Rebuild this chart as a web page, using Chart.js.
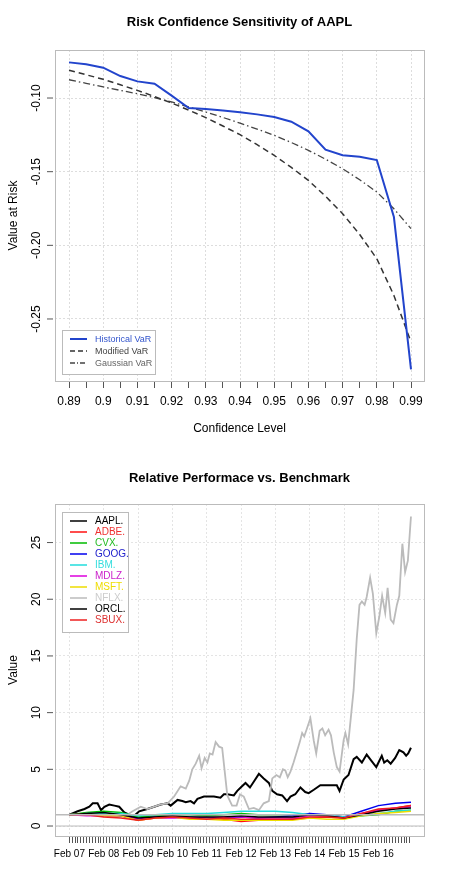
<!DOCTYPE html>
<html><head><meta charset="utf-8">
<script src="https://cdn.jsdelivr.net/npm/chart.js@4"></script>
<style>body{margin:0;background:#fff;width:474px;height:878px;overflow:hidden}canvas{position:absolute;left:0}</style>
</head><body>
<canvas id="c1" width="474" height="440" style="top:0"></canvas>
<canvas id="c2" width="474" height="438" style="top:440px"></canvas>
<script>
const confLevels=[0.89,0.895,0.9,0.905,0.91,0.915,0.92,0.925,0.93,0.935,0.94,0.945,0.95,0.955,0.96,0.965,0.97,0.975,0.98,0.985,0.99];
const historicalVaR=[-0.0758,-0.0771,-0.0794,-0.0851,-0.0887,-0.0903,-0.0984,-0.1068,-0.1075,-0.1084,-0.1097,-0.1111,-0.1129,-0.1161,-0.1226,-0.1351,-0.1389,-0.1398,-0.1421,-0.1808,-0.2842];
const modifiedVaR=[-0.0812,-0.0842,-0.0873,-0.0910,-0.0948,-0.0990,-0.1034,-0.1082,-0.1133,-0.1190,-0.1249,-0.1317,-0.1389,-0.1471,-0.1559,-0.1667,-0.1785,-0.1927,-0.2091,-0.2340,-0.2656];
const gaussianVaR=[-0.0876,-0.0900,-0.0925,-0.0948,-0.0971,-0.0998,-0.1027,-0.1060,-0.1095,-0.1132,-0.1170,-0.1211,-0.1253,-0.1302,-0.1355,-0.1415,-0.1480,-0.1555,-0.1638,-0.1752,-0.1887];
const xTicks1=[0.89,0.9,0.91,0.92,0.93,0.94,0.95,0.96,0.97,0.98,0.99];
const yTicks1=[-0.10,-0.15,-0.20,-0.25];

// bottom chart: x = years since Feb 2007
const yearLabels=['Feb 07','Feb 08','Feb 09','Feb 10','Feb 11','Feb 12','Feb 13','Feb 14','Feb 15','Feb 16'];
const nflxX=[0,1.69,1.84,2.08,2.27,2.66,2.86,3.05,3.24,3.39,3.49,3.58,3.68,3.78,3.85,3.94,4.02,4.09,4.17,4.26,4.36,4.45,4.60,4.74,4.87,4.97,5.08,5.23,5.37,5.52,5.66,5.81,5.91,6.03,6.13,6.22,6.29,6.36,6.44,6.53,6.63,6.71,6.78,6.84,6.92,7.02,7.12,7.19,7.29,7.37,7.45,7.55,7.62,7.70,7.79,7.87,7.99,8.04,8.12,8.28,8.37,8.45,8.52,8.60,8.66,8.76,8.84,8.94,9.03,9.11,9.20,9.27,9.36,9.44,9.54,9.61,9.70,9.78,9.86,9.95];
const nflxV=[1,1.0,1.3,1.7,1.5,1.9,2.0,2.6,3.5,3.3,4.0,5.0,5.5,6.2,5.1,6.0,5.6,6.4,6.3,7.4,7.0,6.9,2.7,1.8,1.8,2.8,2.6,1.5,1.6,1.4,2.0,2.2,4.2,4.5,4.3,5.0,4.9,4.3,4.8,5.6,6.6,7.4,8.2,7.9,8.6,9.5,7.5,6.4,8.4,8.6,8.0,8.5,8.0,6.5,5.2,4.8,7.6,8.2,7.2,12,16.5,19.5,19.8,19.5,20.2,21.9,20.5,17.0,18.5,20.3,18.8,21.0,18.2,17.9,19.5,20.3,24.9,22.4,23.4,27.3];
const aaplX=[0,0.24,0.44,0.58,0.68,0.82,0.92,1.02,1.16,1.31,1.45,1.60,1.74,1.89,2.03,2.27,2.47,2.66,2.86,2.95,3.15,3.29,3.39,3.53,3.63,3.73,3.92,4.21,4.40,4.50,4.60,4.79,4.89,4.99,5.13,5.26,5.37,5.52,5.66,5.81,5.91,6.05,6.20,6.34,6.44,6.58,6.73,6.87,6.97,7.12,7.31,7.50,7.70,7.79,7.87,7.99,8.13,8.28,8.37,8.52,8.66,8.81,8.94,9.10,9.17,9.26,9.36,9.49,9.61,9.73,9.81,9.87,9.95];
const aaplV=[1,1.3,1.5,1.7,2.0,2.0,1.4,1.7,1.9,1.8,1.7,1.2,1.0,0.9,1.3,1.5,1.7,1.9,2.0,1.8,2.3,2.2,2.1,2.2,2.0,2.4,2.6,2.6,2.5,2.8,2.8,2.7,3.1,3.4,3.8,3.4,3.9,4.6,4.2,3.8,3.1,2.8,2.7,2.2,2.6,2.8,3.4,3.0,2.9,3.2,3.6,3.6,3.6,3.6,3.1,4.1,4.5,5.9,6.1,5.6,6.3,5.7,5.2,6.2,5.6,5.8,5.5,6.0,6.7,6.5,6.2,6.4,6.9];
const smallX=[0,0.5,1,1.5,2,2.5,3,3.5,4,4.5,5,5.5,6,6.5,7,7.5,8,8.5,9,9.5,9.95];
const adbeV=[1,1.1,0.9,0.9,0.5,0.7,0.8,0.7,0.6,0.6,0.4,0.5,0.5,0.6,0.7,0.8,0.7,1.0,1.4,1.6,1.8];
const cvxV=[1,1.2,1.3,1.2,0.8,0.9,1.0,1.0,0.9,1.0,1.1,1.0,1.0,1.0,1.0,1.0,0.8,0.9,1.0,1.3,1.4];
const googV=[1,1.1,1.0,0.9,0.6,0.8,0.8,0.8,0.7,0.7,0.8,0.7,0.8,0.9,1.1,1.0,0.8,1.3,1.8,2.0,2.1];
const ibmV=[1,1.1,1.1,1.1,0.9,1.0,1.1,1.1,1.1,1.2,1.3,1.3,1.3,1.2,1.0,1.0,0.8,0.9,1.1,1.3,1.4];
const mdlzV=[1,0.9,0.9,0.9,0.6,0.7,0.7,0.7,0.7,0.8,0.8,0.7,0.7,0.7,0.9,0.9,0.7,1.1,1.4,1.6,1.7];
const msftV=[1,1.1,0.9,0.9,0.5,0.7,0.8,0.6,0.6,0.5,0.5,0.5,0.5,0.5,0.7,0.6,0.6,0.9,1.1,1.2,1.3];
const orclV=[1,1.1,1.2,1.0,0.7,0.8,0.9,0.8,0.8,0.8,0.9,0.8,0.8,0.8,1.0,0.9,0.7,1.0,1.3,1.5,1.6];
const sbuxV=[1,1.0,0.8,0.7,0.5,0.7,0.8,0.7,0.6,0.7,0.6,0.6,0.6,0.6,0.8,0.8,0.7,1.1,1.5,1.6,1.8];
const yTicks2=[0,5,10,15,20,25];

const F='"Liberation Sans", Arial, sans-serif';
const pts=(xs,ys)=>xs.map((x,i)=>({x,y:ys[i]}));

function boxPlugin(title,titleY,yTicks,yFmt,legend){
 return {id:'box',
  afterDraw(c){const ctx=c.ctx,a=c.chartArea;ctx.save();
   ctx.strokeStyle='#bbb';ctx.lineWidth=1;ctx.strokeRect(a.left+0.5,a.top+0.5,a.right-a.left,a.bottom-a.top);
   ctx.fillStyle='#000';ctx.font='bold 13px '+F;ctx.textAlign='center';ctx.textBaseline='middle';
   ctx.fillText(title,(a.left+a.right)/2,titleY);
   const ys=c.scales.y;ctx.font='12px '+F;
   yTicks.forEach(v=>{const p=ys.getPixelForValue(v);ctx.save();ctx.translate(a.left-18,p);ctx.rotate(-Math.PI/2);ctx.fillText(yFmt(v),0,0);ctx.restore();
     ctx.strokeStyle='#555';ctx.beginPath();ctx.moveTo(a.left-8,p);ctx.lineTo(a.left-2,p);ctx.stroke();});
   const L=legend;ctx.strokeStyle='#bbb';ctx.lineWidth=1;ctx.fillStyle='#fff';
   ctx.fillRect(L.x,L.y,L.w,L.h);ctx.strokeRect(L.x+0.5,L.y+0.5,L.w,L.h);
   ctx.font=L.font+'px '+F;ctx.textAlign='left';
   L.items.forEach((it,i)=>{const yy=L.y+L.pad+i*L.step;ctx.strokeStyle=it.c;ctx.lineWidth=it.w;ctx.setLineDash(it.d||[]);
     ctx.beginPath();ctx.moveTo(L.x+8,yy);ctx.lineTo(L.x+25,yy);ctx.stroke();ctx.setLineDash([]);
     ctx.fillStyle=it.t;ctx.fillText(it.l,L.x+33,yy+0.5);});
   ctx.restore();}};
}

new Chart(document.getElementById('c1'),{type:'line',
 data:{datasets:[
  {label:'Historical VaR',data:pts(confLevels,historicalVaR),borderColor:'#2244cc',borderWidth:2,pointRadius:0},
  {label:'Modified VaR',data:pts(confLevels,modifiedVaR),borderColor:'#333',borderWidth:1.5,borderDash:[6,4],pointRadius:0},
  {label:'Gaussian VaR',data:pts(confLevels,gaussianVaR),borderColor:'#444',borderWidth:1.3,borderDash:[7,3,1.5,3],pointRadius:0}]},
 options:{responsive:false,animation:false,layout:{padding:{top:50,right:50,left:0,bottom:0}},
  plugins:{legend:{display:false},tooltip:{enabled:false}},
  scales:{
   x:{type:'linear',min:0.8859,max:0.9938,
     afterBuildTicks:s=>{s.ticks=confLevels.map(v=>({value:v}));},
     afterFit:s=>{s.height=59;},
     ticks:{autoSkip:false,maxRotation:0,padding:6,color:'#000',font:{size:12,family:F},
       callback:(v)=>{const k=Math.round(v*1000);return k%10===0?String(+v.toFixed(2)):'';}},
     grid:{drawTicks:true,tickLength:7,tickColor:'#555',
       color:c=>{const k=Math.round(c.tick.value*1000);return k%10===0?'#ddd':'rgba(0,0,0,0)';}},
     border:{display:false,dash:[2,2]},
     title:{display:true,text:'Confidence Level',color:'#000',font:{size:12,family:F},padding:{top:6}}},
   y:{min:-0.2921,max:-0.0674,
     afterBuildTicks:s=>{s.ticks=yTicks1.map(v=>({value:v}));},
     afterFit:s=>{s.width=55;},
     ticks:{color:'rgba(0,0,0,0)',font:{size:12}},
     grid:{color:'#ddd',drawTicks:false},border:{display:false,dash:[2,2]},
     title:{display:true,text:'Value at Risk',color:'#000',font:{size:12,family:F},padding:{top:6,bottom:18}}}}},
 plugins:[boxPlugin('Risk Confidence Sensitivity of AAPL',22,yTicks1,v=>v.toFixed(2),
   {x:62,y:330,w:93,h:44,pad:9,step:12,font:9,items:[
    {l:'Historical VaR',c:'#2244cc',t:'#3355cc',w:2},
    {l:'Modified VaR',c:'#333',t:'#444',w:1.5,d:[5,3]},
    {l:'Gaussian VaR',c:'#444',t:'#666',w:1.3,d:[5,2,1,2]}]})]
});

const minorX=[];for(let m=0;m<=119;m++)minorX.push(m/12);
new Chart(document.getElementById('c2'),{type:'line',
 data:{datasets:[
  {label:'base1',data:[{x:-1,y:1},{x:11,y:1}],borderColor:'#bbb',borderWidth:1.5,pointRadius:0},
  {label:'base0',data:[{x:-1,y:0},{x:11,y:0}],borderColor:'#bbb',borderWidth:1,pointRadius:0},
  {label:'SBUX.',data:pts(smallX,sbuxV),borderColor:'#ee2020',borderWidth:1.5,pointRadius:0},
  {label:'ORCL.',data:pts(smallX,orclV),borderColor:'#000',borderWidth:1.5,pointRadius:0},
  {label:'MSFT.',data:pts(smallX,msftV),borderColor:'#eedd00',borderWidth:1.5,pointRadius:0},
  {label:'MDLZ.',data:pts(smallX,mdlzV),borderColor:'#dd00dd',borderWidth:1.5,pointRadius:0},
  {label:'IBM.',data:pts(smallX,ibmV),borderColor:'#22dddd',borderWidth:1.5,pointRadius:0},
  {label:'GOOG.',data:pts(smallX,googV),borderColor:'#0000ee',borderWidth:1.5,pointRadius:0},
  {label:'CVX.',data:pts(smallX,cvxV),borderColor:'#00bb00',borderWidth:1.5,pointRadius:0},
  {label:'ADBE.',data:pts(smallX,adbeV),borderColor:'#ff1010',borderWidth:1.5,pointRadius:0},
  {label:'NFLX.',data:pts(nflxX,nflxV),borderColor:'#bbb',borderWidth:1.8,pointRadius:0},
  {label:'AAPL.',data:pts(aaplX,aaplV),borderColor:'#000',borderWidth:2,pointRadius:0}]},
 options:{responsive:false,animation:false,layout:{padding:{top:64,right:50,left:0,bottom:0}},
  plugins:{legend:{display:false},tooltip:{enabled:false}},
  scales:{
   x:{type:'linear',min:-0.42,max:10.33,
     afterBuildTicks:s=>{s.ticks=minorX.map(v=>({value:v}));},
     afterFit:s=>{s.height=42;},
     ticks:{autoSkip:false,maxRotation:0,padding:5,color:'#000',font:{size:10,family:F},
       callback:(v,i)=>i%12===0?yearLabels[i/12]:''},
     grid:{drawTicks:true,tickLength:7,tickColor:'#555',
       color:c=>c.index%12===0?'#e4e4e4':'rgba(0,0,0,0)'},
     border:{display:false,dash:[2,2]}},
   y:{min:-0.88,max:28.4,
     afterBuildTicks:s=>{s.ticks=yTicks2.map(v=>({value:v}));},
     afterFit:s=>{s.width=55;},
     ticks:{color:'rgba(0,0,0,0)',font:{size:12}},
     grid:{color:'#e4e4e4',drawTicks:false},border:{display:false,dash:[2,2]},
     title:{display:true,text:'Value',color:'#000',font:{size:12,family:F},padding:{top:6,bottom:18}}}}},
 plugins:[boxPlugin('Relative Performace vs. Benchmark',38,yTicks2,v=>String(v),
   {x:62,y:72,w:66,h:120,pad:9,step:11,font:10,items:[
    {l:'AAPL.',c:'#000',t:'#000',w:1.5},{l:'ADBE.',c:'#ff1010',t:'#ee3030',w:1.5},
    {l:'CVX.',c:'#00bb00',t:'#22bb22',w:1.5},{l:'GOOG.',c:'#0000ee',t:'#2222cc',w:1.5},
    {l:'IBM.',c:'#22dddd',t:'#33dddd',w:1.5},{l:'MDLZ.',c:'#dd00dd',t:'#cc22cc',w:1.5},
    {l:'MSFT.',c:'#eedd00',t:'#eedd00',w:1.5},{l:'NFLX.',c:'#bbb',t:'#ccc',w:1.5},
    {l:'ORCL.',c:'#000',t:'#000',w:1.5},{l:'SBUX.',c:'#ee2020',t:'#dd3030',w:1.5}]})]
});
</script></body></html>
